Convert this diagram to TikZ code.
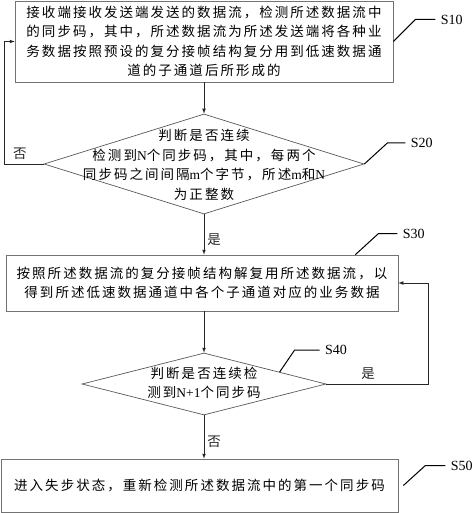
\documentclass[tikz,border=0pt]{standalone}
\usepackage{fontspec}
\setmainfont{Liberation Serif}
\newfontfamily\cjk{Noto Sans CJK SC}[LetterSpace=15]
\newcommand{\EN}[1]{{\rmfamily #1}}
\usetikzlibrary{shapes.geometric}
\usetikzlibrary{math}

\begin{document}
\begin{tikzpicture}[x=1pt, y=-1pt,
    stepbox/.style={draw=black!55, line width=0.7pt, inner sep=0pt},
    choice/.style={diamond, draw=black!65, line width=0.7pt, inner sep=0pt},
    steptext/.style={font=\cjk\fontsize{13.5}{19.5}\selectfont, align=center, inner sep=0pt},
    answer/.style={font=\cjk\fontsize{13.5}{13.5}\selectfont, inner sep=0pt},
    flow/.style={black!85, line width=0.7pt, -latex},
    leader/.style={black, line width=1pt},
    tag/.style={font=\fontsize{14}{14}\selectfont, right=5pt, inner sep=0pt},
]

% Position settings
\tikzmath{
    \FlowX = 204;
    \LeftTurn = 4;
    \RightTurn = 428;
}

\useasboundingbox (0,0) rectangle (474,513);

% Steps and decisions
\node [stepbox, minimum width=378pt, minimum height=81pt] (box1) at (\FlowX, 41.5) {};
\node [steptext] (box1text) at (box1.center) {接收端接收发送端发送的数据流，检测所述数据流中\\的同步码，其中，所述数据流为所述发送端将各种业\\务数据按照预设的复分接帧结构复分用到低速数据通\\道的子通道后所形成的};

\node [choice, minimum width=320pt, minimum height=100pt] (d1) at (\FlowX, 164) {};
\node [steptext] (d1text) at (\FlowX, 165) {判断是否连续\\检测到\EN{N}个同步码，其中，每两个\\同步码之间间隔\EN{m}个字节，所述\EN{m}和\EN{N}\\为正整数};

\node [stepbox, minimum width=392pt, minimum height=56pt] (box3) at (202, 283) {};
\node [steptext] (box3text) at (box3.center) {按照所述数据流的复分接帧结构解复用所述数据流，以\\得到所述低速数据通道中各个子通道对应的业务数据};

\node [choice, minimum width=244pt, minimum height=62pt] (d2) at (\FlowX, 384) {};
\node [steptext] (d2text) at (\FlowX, 383) {判断是否连续检\\测到\EN{N+1}个同步码};

\node [stepbox, minimum width=397pt, minimum height=53pt] (box5) at (199.5, 485.5) {};
\node [steptext] (box5text) at (box5.center) {进入失步状态，重新检测所述数据流中的第一个同步码};

\coordinate (NoTurn) at (\LeftTurn, 164);
\coordinate (YesTurn) at (\RightTurn, 384);

% Connectors
\draw [flow] (box1.south) -- (d1.north);
\draw [flow] (d1.south) -- node [answer, pos=0.63, right=3pt] {是} (d1.south |- box3.north);
\draw [flow] (box3.south -| d2.north) -- (d2.north);
\draw [flow] (d2.south) -- node [answer, pos=0.61, right=3pt] {否} (d2.south |- box5.north);
\draw [flow] (d1.west) -- node [answer, pos=0.6, above=4pt] {否} (NoTurn) |- (box1.west);
\draw [flow] (d2.east) -- node [answer, pos=0.41, above=4pt] {是} (YesTurn) |- (box3.east);

% Step tags
\draw [leader] (box1.east) -- ++(22,-22) -- ++(20,0) node [tag] {S10};
\draw [leader] (d1.east) -- ++(23,-21) -- ++(18,0) node [tag] {S20};
\draw [leader] ([xshift=-43pt]box3.north east) -- ++(23,-21) -- ++(19,0) node [tag] {S30};
\draw [leader] (d2.9) -- ++(15,-22) -- ++(25,0) node [tag] {S40};
\draw [leader] ([xshift=5pt]box5.east) -- ++(22,-20) -- ++(20,0) node [tag] {S50};

\end{tikzpicture}
\end{document}
